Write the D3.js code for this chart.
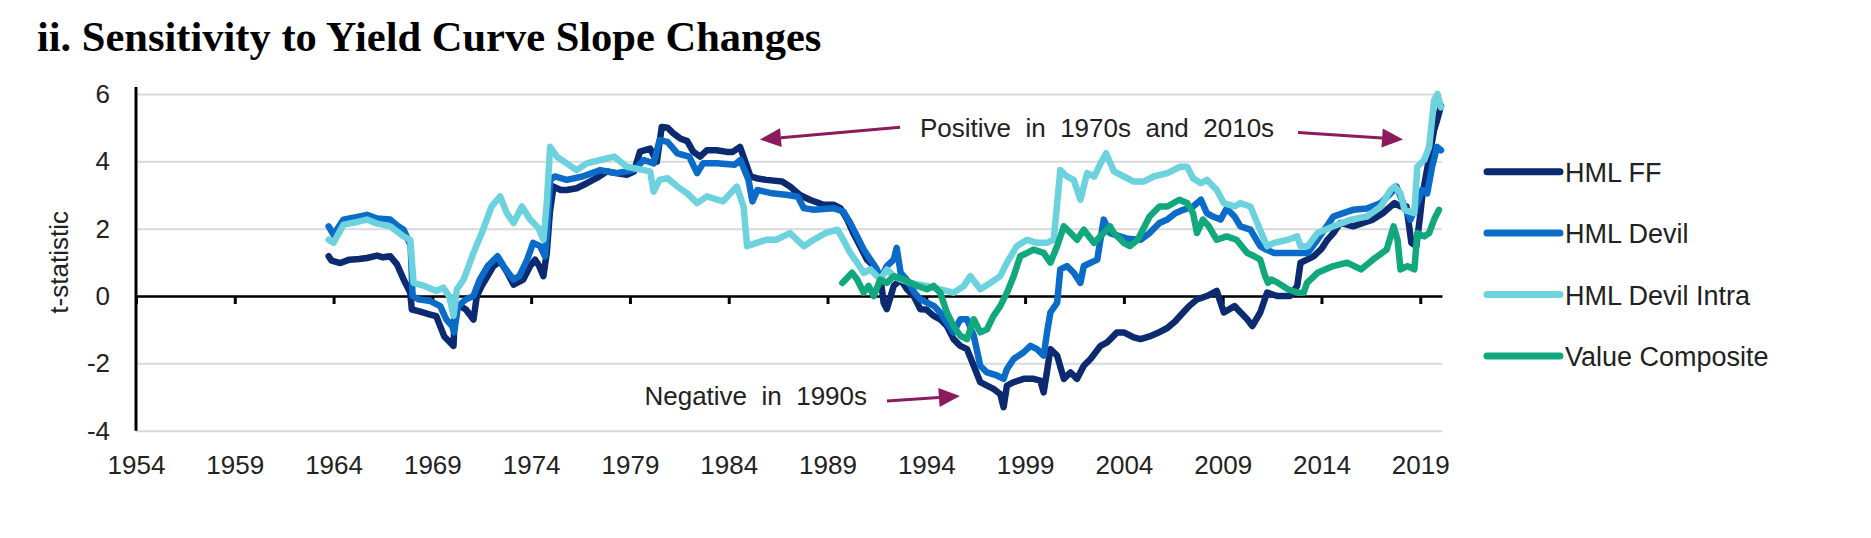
<!DOCTYPE html>
<html>
<head>
<meta charset="utf-8">
<script src="https://cdn.jsdelivr.net/npm/d3@7"></script>
<style>
  html, body { margin: 0; padding: 0; background: #ffffff; }
  svg { display: block; }
  text { font-family: "Liberation Sans", Arial, sans-serif; fill: #222; }
</style>
</head>
<body>
<svg id="chart" width="1871" height="538"></svg>
<script>
// ---------------- DATA ----------------
const xTickYears = [1954, 1959, 1964, 1969, 1974, 1979, 1984, 1989, 1994, 1999, 2004, 2009, 2014, 2019];
const yTickValues = [-4, -2, 0, 2, 4, 6];
const seriesNames = ["HML FF", "HML Devil", "HML Devil Intra", "Value Composite"];

// [year, t-statistic]
const hmlFF = [
  [1963.75,1.18],[1963.9,1.05],[1964.34,0.98],[1964.8,1.08],[1965.3,1.1],[1965.69,1.13],[1966.2,1.2],[1966.5,1.15],
  [1966.87,1.18],[1967.2,0.95],[1967.54,0.5],[1967.88,0.1],[1967.96,-0.4],[1968.3,-0.45],[1968.6,-0.5],[1968.89,-0.55],
  [1969.2,-0.6],[1969.4,-0.9],[1969.6,-1.2],[1969.85,-1.35],[1970.07,-1.48],[1970.15,-0.3],[1970.41,-0.3],[1970.7,-0.4],
  [1971.08,-0.7],[1971.25,0.0],[1971.5,0.3],[1971.8,0.6],[1972.09,0.89],[1972.43,1.03],[1972.8,0.69],[1973.11,0.34],
  [1973.3,0.4],[1973.6,0.49],[1973.95,0.89],[1974.2,1.08],[1974.4,0.9],[1974.62,0.59],[1974.79,1.28],[1974.95,2.5],
  [1975.13,3.25],[1975.5,3.15],[1975.8,3.15],[1976.3,3.2],[1976.82,3.35],[1977.3,3.5],[1977.83,3.7],[1978.3,3.65],
  [1978.84,3.6],[1979.2,3.7],[1979.51,4.29],[1980.02,4.38],[1980.36,3.99],[1980.61,5.02],[1980.9,5.0],[1981.2,4.83],
  [1981.54,4.68],[1981.9,4.6],[1982.2,4.29],[1982.55,4.14],[1982.9,4.33],[1983.39,4.33],[1983.9,4.28],[1984.2,4.28],
  [1984.57,4.43],[1984.93,3.84],[1985.1,3.55],[1985.4,3.5],[1985.9,3.45],[1986.7,3.4],[1987.1,3.25],[1987.6,3.0],
  [1988.1,2.86],[1988.8,2.71],[1989.3,2.71],[1989.65,2.61],[1990.0,2.27],[1990.3,1.87],[1990.65,1.48],[1991.0,1.08],
  [1991.34,0.89],[1991.67,0.59],[1991.84,-0.2],[1992.0,-0.39],[1992.2,0.0],[1992.35,0.3],[1992.7,0.49],[1993.02,0.2],
  [1993.36,0.0],[1993.7,-0.39],[1994.0,-0.4],[1994.37,-0.59],[1994.7,-0.69],[1995.04,-0.89],[1995.38,-1.28],[1995.72,-1.48],
  [1996.06,-1.58],[1996.4,-2.07],[1996.73,-2.56],[1997.07,-2.66],[1997.4,-2.76],[1997.74,-2.91],[1997.91,-3.3],[1998.08,-2.66],
  [1998.42,-2.56],[1998.93,-2.46],[1999.43,-2.46],[1999.77,-2.51],[1999.94,-2.86],[2000.1,-2.27],[2000.28,-1.58],[2000.62,-1.77],
  [2000.96,-2.46],[2001.3,-2.27],[2001.63,-2.46],[2001.97,-2.07],[2002.31,-1.87],[2002.82,-1.48],[2003.15,-1.38],[2003.65,-1.08],
  [2004.0,-1.08],[2004.5,-1.23],[2004.84,-1.28],[2005.3,-1.2],[2005.7,-1.1],[2006.2,-0.95],[2006.6,-0.75],[2007.0,-0.49],
  [2007.3,-0.3],[2007.7,-0.1],[2008.2,0.0],[2008.7,0.15],[2009.06,-0.49],[2009.6,-0.3],[2010.24,-0.69],[2010.5,-0.89],
  [2010.9,-0.49],[2011.25,0.1],[2011.76,0.0],[2012.4,0.0],[2012.77,0.3],[2012.94,0.99],[2013.27,1.08],[2013.6,1.18],
  [2014.0,1.4],[2014.3,1.67],[2014.6,1.87],[2014.96,2.17],[2015.6,2.07],[2016.1,2.17],[2016.6,2.27],[2017.1,2.46],
  [2017.7,2.76],[2018.0,2.66],[2018.3,2.66],[2018.55,1.58],[2018.8,1.48],[2018.97,2.27],[2019.1,2.96],[2019.4,3.94],
  [2019.7,4.93],[2019.85,5.22],[2020.05,5.65]
];

const hmlDevil = [
  [1963.75,2.07],[1964.0,1.82],[1964.5,2.27],[1965.2,2.35],[1965.69,2.41],[1966.2,2.3],[1966.87,2.27],[1967.2,2.1],
  [1967.54,1.97],[1967.9,1.5],[1968.0,0.0],[1968.3,-0.1],[1968.9,-0.15],[1969.4,-0.3],[1969.7,-0.69],[1970.0,-0.89],
  [1970.1,-1.08],[1970.3,-0.3],[1970.7,-0.1],[1971.08,0.0],[1971.4,0.49],[1971.8,0.89],[1972.3,1.18],[1972.6,0.89],
  [1973.1,0.49],[1973.4,0.59],[1973.8,1.08],[1974.1,1.58],[1974.45,1.48],[1974.7,1.18],[1974.8,1.87],[1974.96,3.45],
  [1975.2,3.55],[1975.8,3.45],[1976.6,3.55],[1977.5,3.74],[1978.3,3.65],[1979.2,3.74],[1979.7,4.04],[1980.2,3.94],
  [1980.5,4.63],[1980.9,4.58],[1981.4,4.24],[1982.0,4.14],[1982.4,3.65],[1982.7,3.94],[1983.4,3.94],[1984.3,3.9],
  [1984.59,4.04],[1985.0,3.45],[1985.2,2.81],[1985.45,3.15],[1986.2,3.05],[1987.0,3.0],[1987.5,2.95],[1987.8,2.61],
  [1988.3,2.56],[1989.3,2.61],[1989.8,2.51],[1990.15,2.17],[1990.5,1.77],[1990.83,1.38],[1991.17,1.08],[1991.5,0.79],
  [1991.67,0.49],[1992.0,0.89],[1992.35,1.08],[1992.5,1.43],[1992.7,0.69],[1993.0,0.49],[1993.4,0.1],[1993.7,-0.1],
  [1994.4,-0.3],[1994.7,-0.49],[1995.04,-0.79],[1995.38,-1.08],[1995.72,-0.69],[1996.06,-0.69],[1996.4,-1.18],[1996.73,-2.07],
  [1997.07,-2.27],[1997.57,-2.36],[1997.91,-2.46],[1998.08,-2.17],[1998.42,-1.87],[1998.93,-1.67],[1999.27,-1.48],[1999.6,-1.58],
  [1999.94,-1.77],[2000.11,-1.08],[2000.28,-0.49],[2000.62,-0.2],[2000.78,0.79],[2001.12,0.89],[2001.46,0.69],[2001.8,0.39],
  [2001.97,0.89],[2002.65,1.08],[2002.98,2.27],[2003.3,1.87],[2003.8,1.77],[2004.2,1.7],[2004.84,1.67],[2005.3,1.87],
  [2005.8,2.17],[2006.2,2.27],[2006.6,2.46],[2007.0,2.56],[2007.5,2.66],[2007.9,2.86],[2008.2,2.46],[2008.5,2.36],
  [2008.9,2.27],[2009.2,2.6],[2009.6,2.36],[2009.9,2.07],[2010.4,1.97],[2010.9,1.48],[2011.2,1.38],[2011.6,1.28],
  [2012.3,1.28],[2012.9,1.28],[2013.3,1.28],[2013.8,1.67],[2014.6,2.36],[2015.1,2.46],[2015.6,2.56],[2016.3,2.6],
  [2017.0,2.76],[2017.5,3.05],[2017.8,3.25],[2018.2,2.66],[2018.5,2.27],[2018.8,2.66],[2019.1,3.15],[2019.35,3.05],
  [2019.6,3.84],[2019.85,4.43],[2020.05,4.33]
];

const hmlDevilIntra = [
  [1963.75,1.67],[1964.0,1.58],[1964.5,2.12],[1965.2,2.2],[1965.69,2.27],[1966.2,2.15],[1966.87,2.07],[1967.54,1.77],
  [1967.88,1.67],[1968.05,0.39],[1968.6,0.3],[1969.2,0.15],[1969.55,0.25],[1969.85,0.0],[1970.07,-0.59],[1970.24,0.2],
  [1970.58,0.49],[1971.08,1.28],[1971.5,1.87],[1972.0,2.66],[1972.43,2.96],[1972.77,2.46],[1973.11,2.17],[1973.53,2.66],
  [1973.95,2.27],[1974.37,2.02],[1974.62,1.67],[1974.79,2.76],[1974.96,4.43],[1975.3,4.14],[1975.8,3.94],[1976.3,3.74],
  [1976.82,3.94],[1977.5,4.04],[1978.2,4.14],[1978.84,3.84],[1979.7,3.74],[1980.02,3.7],[1980.2,3.1],[1980.5,3.45],
  [1980.9,3.5],[1981.4,3.25],[1981.9,3.05],[1982.4,2.76],[1982.9,2.96],[1983.7,2.81],[1984.41,3.25],[1984.75,2.66],
  [1984.93,1.48],[1985.4,1.58],[1985.9,1.67],[1986.4,1.67],[1987.1,1.87],[1987.8,1.48],[1988.3,1.67],[1988.9,1.87],
  [1989.5,1.97],[1989.8,1.67],[1990.15,1.28],[1990.5,0.99],[1990.83,0.69],[1991.17,0.79],[1991.67,0.49],[1992.0,0.79],
  [1992.35,0.59],[1992.7,0.49],[1993.2,0.39],[1994.0,0.3],[1994.7,0.2],[1995.38,0.1],[1995.9,0.3],[1996.23,0.59],
  [1996.73,0.2],[1997.24,0.39],[1997.74,0.59],[1998.08,0.99],[1998.58,1.48],[1999.1,1.67],[1999.6,1.58],[2000.1,1.58],
  [2000.45,1.67],[2000.78,3.74],[2001.12,3.55],[2001.46,3.45],[2001.8,2.86],[2002.14,3.65],[2002.5,3.55],[2002.82,3.94],
  [2003.1,4.24],[2003.5,3.7],[2004.0,3.55],[2004.5,3.4],[2005.0,3.4],[2005.5,3.55],[2006.2,3.65],[2006.85,3.84],
  [2007.2,3.84],[2007.5,3.5],[2007.9,3.35],[2008.2,3.45],[2008.7,3.15],[2009.06,2.76],[2009.6,2.66],[2009.9,2.76],
  [2010.4,2.66],[2010.75,2.17],[2011.1,1.67],[2011.25,1.48],[2011.6,1.58],[2012.3,1.67],[2012.77,1.77],[2012.94,1.48],
  [2013.3,1.48],[2013.8,1.87],[2014.6,2.07],[2015.5,2.27],[2016.3,2.36],[2017.0,2.66],[2017.5,3.15],[2017.7,3.25],
  [2018.0,3.05],[2018.2,2.56],[2018.7,2.46],[2018.85,3.84],[2019.2,4.04],[2019.45,4.43],[2019.7,5.81],[2019.87,6.0],
  [2020.05,5.6]
];

const valueComposite = [
  [1989.75,0.39],[1990.24,0.69],[1990.5,0.49],[1990.83,0.1],[1991.08,0.3],[1991.34,0.0],[1991.67,0.49],[1992.0,0.39],
  [1992.35,0.59],[1992.85,0.49],[1993.53,0.3],[1994.03,0.2],[1994.37,0.3],[1994.7,0.1],[1995.04,-0.49],[1995.38,-0.89],
  [1995.72,-1.18],[1996.06,-1.28],[1996.4,-0.69],[1996.73,-1.08],[1997.07,-0.99],[1997.4,-0.59],[1997.74,-0.3],[1998.08,0.1],
  [1998.42,0.59],[1998.75,1.18],[1999.1,1.28],[1999.43,1.38],[1999.94,1.28],[2000.28,0.99],[2000.62,1.48],[2000.96,2.07],
  [2001.3,1.87],[2001.63,1.67],[2001.97,1.97],[2002.48,1.58],[2002.98,1.87],[2003.3,2.07],[2003.5,1.87],[2004.0,1.58],
  [2004.3,1.48],[2004.7,1.67],[2005.3,2.36],[2005.8,2.66],[2006.2,2.66],[2006.8,2.86],[2007.2,2.76],[2007.5,2.46],
  [2007.7,1.87],[2008.0,2.27],[2008.3,2.07],[2008.7,1.67],[2009.2,1.77],[2009.7,1.67],[2010.24,1.28],[2010.6,1.18],
  [2010.9,1.08],[2011.15,0.59],[2011.3,0.39],[2011.45,0.49],[2011.8,0.39],[2012.3,0.2],[2012.8,0.1],[2013.1,0.1],
  [2013.27,0.39],[2013.8,0.69],[2014.6,0.89],[2015.3,0.99],[2016.0,0.79],[2016.6,1.08],[2017.3,1.38],[2017.65,2.07],
  [2017.85,1.67],[2018.0,0.79],[2018.35,0.89],[2018.7,0.79],[2018.85,1.87],[2019.2,1.77],[2019.45,1.87],[2019.7,2.27],
  [2019.95,2.56]
];

const seriesColors = ["#0b2a6f", "#0a6bc9", "#6cd2de", "#12a87e"];

// ---------------- LAYOUT ----------------
const svg = d3.select("#chart");
svg.append("rect").attr("width", 1871).attr("height", 538).attr("fill", "#fff");

const x = d3.scaleLinear().domain([1954, 2020.1]).range([136, 1442]);
const y = d3.scaleLinear().domain([-4, 6]).range([430.7, 94]);
const plain = d => String(d);

// Title
svg.append("text")
  .attr("x", 37).attr("y", 51)
  .style("font-family", "'Liberation Serif', 'Times New Roman', serif")
  .style("font-weight", "bold")
  .style("font-size", "42.5px")
  .style("fill", "#000")
  .text("ii. Sensitivity to Yield Curve Slope Changes");

// Gridlines
const grid = svg.append("g")
  .attr("transform", `translate(${x.range()[0]},0)`)
  .call(d3.axisLeft(y).tickValues(yTickValues)
    .tickSize(-(x.range()[1] - x.range()[0])).tickFormat(""));
grid.select(".domain").remove();
grid.selectAll(".tick line").attr("stroke", "#d9d9d9").attr("stroke-width", 2);

// Y axis labels
const yAx = svg.append("g")
  .attr("transform", `translate(${x.range()[0]},0)`)
  .call(d3.axisLeft(y).tickValues(yTickValues).tickSize(0).tickPadding(26).tickFormat(plain));
yAx.select(".domain").remove();
yAx.selectAll("text")
  .style("font-family", "'Liberation Sans', Arial, sans-serif")
  .style("font-size", "26px").style("fill", "#222");

// X axis tick marks on zero line
const xTicks = svg.append("g")
  .attr("transform", `translate(0,${y(0)})`)
  .call(d3.axisBottom(x).tickValues(xTickYears).tickSize(8).tickSizeOuter(0).tickFormat(""));
xTicks.select(".domain").attr("stroke", "#000").attr("stroke-width", 2.5);
xTicks.selectAll(".tick line").attr("stroke", "#000").attr("stroke-width", 3);

// X axis labels at bottom
const xLab = svg.append("g")
  .attr("transform", `translate(0,${y(-4)})`)
  .call(d3.axisBottom(x).tickValues(xTickYears).tickSize(0).tickPadding(25).tickFormat(plain));
xLab.select(".domain").remove();
xLab.selectAll("text")
  .style("font-family", "'Liberation Sans', Arial, sans-serif")
  .style("font-size", "26px").style("fill", "#222");

// Vertical axis line
svg.append("line")
  .attr("x1", x(1954)).attr("x2", x(1954))
  .attr("y1", y(6) - 7).attr("y2", y(-4))
  .attr("stroke", "#000").attr("stroke-width", 3);

// Y axis title
svg.append("text")
  .attr("transform", `translate(68,${(y(6) + y(-4)) / 2}) rotate(-90)`)
  .attr("text-anchor", "middle")
  .style("font-size", "26px")
  .text("t-statistic");

// Lines
const line = d3.line().x(d => x(d[0])).y(d => y(d[1]));
const allSeries = [hmlFF, hmlDevil, hmlDevilIntra, valueComposite];
svg.append("g").selectAll("path")
  .data(allSeries)
  .join("path")
  .attr("d", line)
  .attr("fill", "none")
  .attr("stroke", (d, i) => seriesColors[i])
  .attr("stroke-width", 6.5)
  .attr("stroke-linejoin", "round")
  .attr("stroke-linecap", "round");

// Legend
const legendTop = 171.7, legendStep = 61.4;
const leg = svg.append("g");
seriesNames.forEach((name, i) => {
  const ly = legendTop + i * legendStep;
  leg.append("line")
    .attr("x1", 1487).attr("x2", 1560).attr("y1", ly).attr("y2", ly)
    .attr("stroke", seriesColors[i]).attr("stroke-width", 7).attr("stroke-linecap", "round");
  leg.append("text")
    .attr("x", 1565).attr("y", ly + 10)
    .style("font-size", "27px")
    .text(name);
});

// Annotations
const annColor = "#8c1b5d";
function arrow(fromYear, fromVal, toYear, toVal) {
  const x1 = x(fromYear), y1 = y(fromVal), x2 = x(toYear), y2 = y(toVal);
  const ang = Math.atan2(y2 - y1, x2 - x1);
  const headLen = 21, headHalf = 9.5;
  const bx = x2 - headLen * Math.cos(ang), by = y2 - headLen * Math.sin(ang);
  svg.append("line")
    .attr("x1", x1).attr("y1", y1).attr("x2", bx).attr("y2", by)
    .attr("stroke", annColor).attr("stroke-width", 3);
  const px = -Math.sin(ang), py = Math.cos(ang);
  svg.append("path")
    .attr("d", `M${x2},${y2}L${bx + px * headHalf},${by + py * headHalf}L${bx - px * headHalf},${by - py * headHalf}Z`)
    .attr("fill", annColor);
}

svg.append("text")
  .attr("x", x(1993.68)).attr("y", y(4.71))
  .attr("xml:space", "preserve")
  .style("font-size", "26px").style("white-space", "pre")
  .text("Positive  in  1970s  and  2010s");
arrow(1992.67, 5.01, 1985.58, 4.65);
arrow(2012.81, 4.86, 2018.13, 4.65);

svg.append("text")
  .attr("x", x(1991.0)).attr("y", y(-3.25))
  .attr("text-anchor", "end")
  .attr("xml:space", "preserve")
  .style("font-size", "26px").style("white-space", "pre")
  .text("Negative  in  1990s");
arrow(1992.01, -3.12, 1995.70, -2.97);
</script>
</body>
</html>
